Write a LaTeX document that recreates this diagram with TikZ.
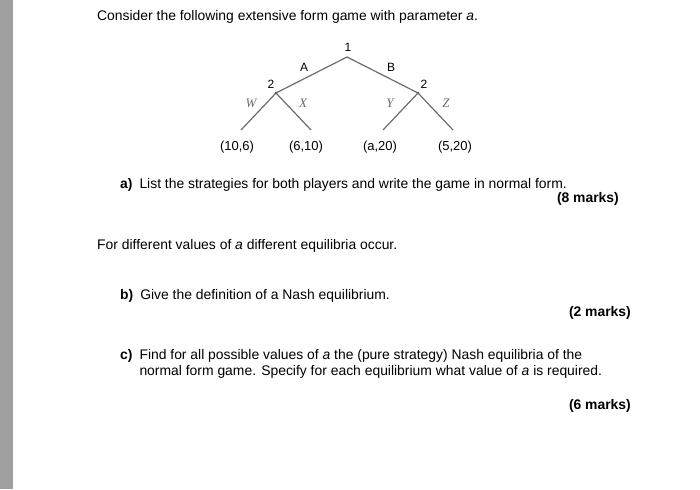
\documentclass[tikz,border=0pt]{standalone}
\usepackage{fontspec}
\setmainfont{Liberation Sans}
\newfontfamily\serifr{Liberation Serif}
\begin{document}
\begin{tikzpicture}[x=1pt,y=-1pt,
  txt/.style={anchor=west,inner sep=0pt,font=\fontsize{13.9}{16.5}\selectfont},
  br/.style={draw=gray!85!black,line width=1.2pt},
  lab/.style={inner sep=0pt,font=\fontsize{12}{14}\selectfont},
  mv/.style={inner sep=0pt,font=\serifr\itshape\fontsize{13}{14}\selectfont,text=gray!85!black},
  pay/.style={inner sep=0pt,font=\fontsize{13}{14}\selectfont}]
\useasboundingbox (0,0) rectangle (700,489);
\fill[gray!75] (0,0) rectangle (13,489);
\node[txt] (t1) at (97,17) {Consider the following extensive form game with parameter \textit{a}.};
\coordinate (r) at (347,57);
\coordinate (l) at (276,93);
\coordinate (rr) at (418,93);
\node[lab] (one) at (348,47) {1};
\node[lab] (two1) at (271,84) {2};
\node[lab] (two2) at (424,84) {2};
\fill (l) circle (1.3pt) (rr) circle (1.3pt);
\coordinate (w) at (241,130);
\coordinate (x) at (311,130);
\coordinate (y) at (383,130);
\coordinate (z) at (453,130);
\draw[br] (l) -- (r) -- (rr);
\draw[br] (w) -- (l) -- (x);
\draw[br] (y) -- (rr) -- (z);
\node[lab] (A) at (304,67) {A};
\node[lab] (B) at (391,67) {B};
\node[mv] (W) at (251,103) {W};
\node[mv] (X) at (303,103) {X};
\node[mv] (Y) at (390,103) {Y};
\node[mv] (Z) at (446,103) {Z};
\node[pay] (p1) at (237,147) {(10,6)};
\node[pay] (p2) at (306,147) {(6,10)};
\node[pay] (p3) at (380,147) {(a,20)};
\node[pay] (p4) at (455,147) {(5,20)};
\node[txt] (qa) at (120,185) {\textbf{a)}\enspace List the strategies for both players and write the game in normal form.};
\node[txt,anchor=east] (ma) at (619,199) {\textbf{(8 marks)}};
\node[txt] (d) at (97,246) {For different values of \textit{a} different equilibria occur.};
\node[txt] (qb) at (120,296) {\textbf{b)}\enspace Give the definition of a Nash equilibrium.};
\node[txt,anchor=east] (mb) at (631,313) {\textbf{(2 marks)}};
\node[txt,anchor=north west,align=left] (qc) at (120,349) {\textbf{c)}\enspace Find for all possible values of \textit{a} the (pure strategy) Nash equilibria of the\\\hphantom{\textbf{c)}\enspace}normal form game. Specify for each equilibrium what value of \textit{a} is required.};
\node[txt,anchor=east] (mc) at (631,406) {\textbf{(6 marks)}};
\end{tikzpicture}
\end{document}
